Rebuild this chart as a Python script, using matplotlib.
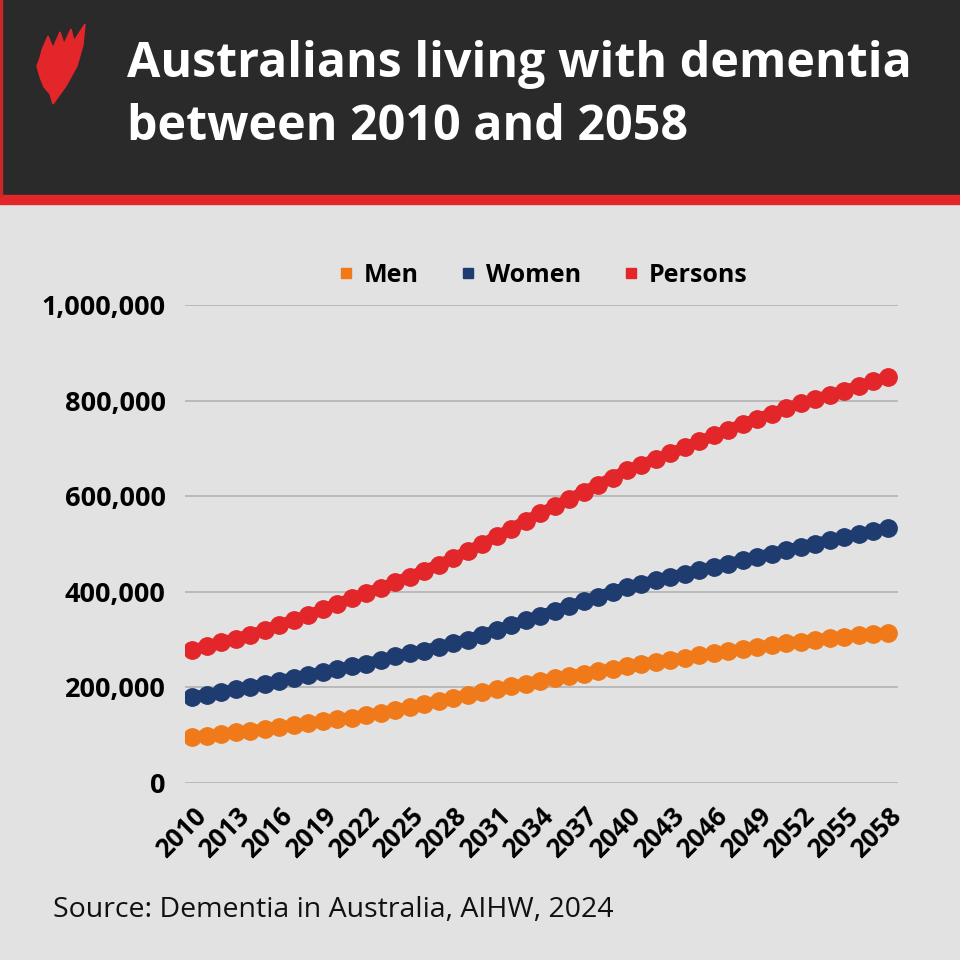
import matplotlib
import matplotlib.pyplot as plt
from matplotlib.lines import Line2D
from matplotlib.patches import Polygon, Rectangle
from matplotlib.ticker import FuncFormatter

matplotlib.use("Agg")
plt.rcParams["font.family"] = ["Open Sans", "DejaVu Sans"]

# values, in thousands
YEARS = list(range(2010, 2059))
MEN = [96, 99, 102, 106, 109, 113, 117, 121, 125, 129,
       133, 137, 142, 147, 152, 158, 165, 172, 178, 184,
       190, 196, 202, 208, 214, 219, 224, 229, 234, 239,
       244, 249, 253, 258, 262, 267, 271, 276, 280, 285,
       289, 293, 296, 300, 303, 306, 309, 312, 314]
WOMEN = [180, 185, 190, 196, 201, 207, 214, 220, 226, 232,
         238, 244, 250, 257, 265, 271, 277, 285, 292, 300,
         310, 320, 330, 340, 350, 360, 370, 380, 390, 400,
         410, 417, 424, 431, 438, 445, 452, 459, 466, 473,
         480, 487, 494, 501, 508, 514, 520, 527, 533]
PERSONS = [278, 286, 294, 302, 310, 320, 331, 341, 351, 363,
           375, 386, 397, 408, 420, 432, 444, 457, 470, 485,
           500, 516, 532, 548, 564, 579, 594, 609, 624, 639,
           654, 666, 678, 690, 702, 715, 727, 739, 751, 762,
           773, 784, 794, 803, 812, 821, 830, 840, 849]
SERIES = ["Men", "Women", "Persons"]
COLORS = ["#F07A1A", "#1F3C70", "#E2262A"]
YTICKS = [0, 200000, 400000, 600000, 800000, 1000000]
XTICKS = list(range(2010, 2059, 3))

TITLE = "Australians living with dementia\nbetween 2010 and 2058"
SOURCE = "Source: Dementia in Australia, AIHW, 2024"

W = H = 960
fig = plt.figure(figsize=(9.6, 9.6), dpi=100)
fig.patch.set_facecolor("#E2E2E2")

# header band + red stripe
fig.patches.append(Rectangle((0, 1 - 196 / H), 1, 196 / H, transform=fig.transFigure,
                             color="#2B2A2A", zorder=0))
fig.patches.append(Rectangle((0, 1 - 204 / H), 1, 9 / H, transform=fig.transFigure,
                             color="#E2262A", zorder=0))
fig.patches.append(Rectangle((0, 1 - 196 / H), 2 / W, 196 / H, transform=fig.transFigure,
                             color="#C8282A", zorder=0))

# logo (rough)
logo_px = [(85, 24), (83, 45), (77, 66), (66, 86), (53, 104), (50, 94), (44, 87),
           (40, 77), (37, 66), (40, 58), (42, 50), (48, 36), (53, 48), (60, 32),
           (64, 44), (71, 29), (74, 41)]
fig.patches.append(Polygon([(x / W, 1 - y / H) for x, y in logo_px], closed=True,
                           transform=fig.transFigure, color="#E2262A", zorder=1))

fig.text(127 / W, 1 - 96 / H, TITLE, color="white", fontsize=34.8, fontweight="bold",
         va="center", ha="left", linespacing=1.38)

ax = fig.add_axes([185 / W, 1 - 783 / H, 713 / W, 478 / H])
ax.set_facecolor("none")

for vals, c in zip([MEN, WOMEN, PERSONS], COLORS):
    ax.plot(YEARS, [v * 1000 for v in vals], color=c, lw=8, marker="o", ms=12.5,
            solid_capstyle="round", zorder=3)

ax.set_xlim(2009.5, 2058.7)
ax.set_ylim(0, 1000000)
ax.set_yticks(YTICKS)
ax.yaxis.set_major_formatter(FuncFormatter(lambda v, _: f"{v:,.0f}"))
ax.set_xticks(XTICKS)
ax.set_xticklabels([str(y) for y in XTICKS], rotation=45, ha="right", va="top",
                   rotation_mode="anchor")
ax.tick_params(length=0)
ax.tick_params(axis="y", pad=14, labelsize=19.5)
ax.tick_params(axis="x", pad=14, labelsize=18.5)
for lab in ax.get_xticklabels() + ax.get_yticklabels():
    lab.set_fontweight("bold")
ax.yaxis.grid(color="#B3B3B3", lw=1.2)
ax.set_axisbelow(True)
for s in ax.spines.values():
    s.set_visible(False)

handles = [Line2D([], [], marker="s", ls="none", color=c, ms=6.5) for c in COLORS]
leg = ax.legend(handles, SERIES, loc="center", bbox_to_anchor=(0.5, 1 + 30 / 478), ncol=3,
                frameon=False, handletextpad=0.3, columnspacing=1.6, handlelength=0.8,
                prop={"weight": "bold", "size": 18})

fig.text(53 / W, 1 - 910 / H, SOURCE, fontsize=20.5, va="center", ha="left", color="#111111")

fig.savefig("out.png", dpi=100, facecolor=fig.get_facecolor())
